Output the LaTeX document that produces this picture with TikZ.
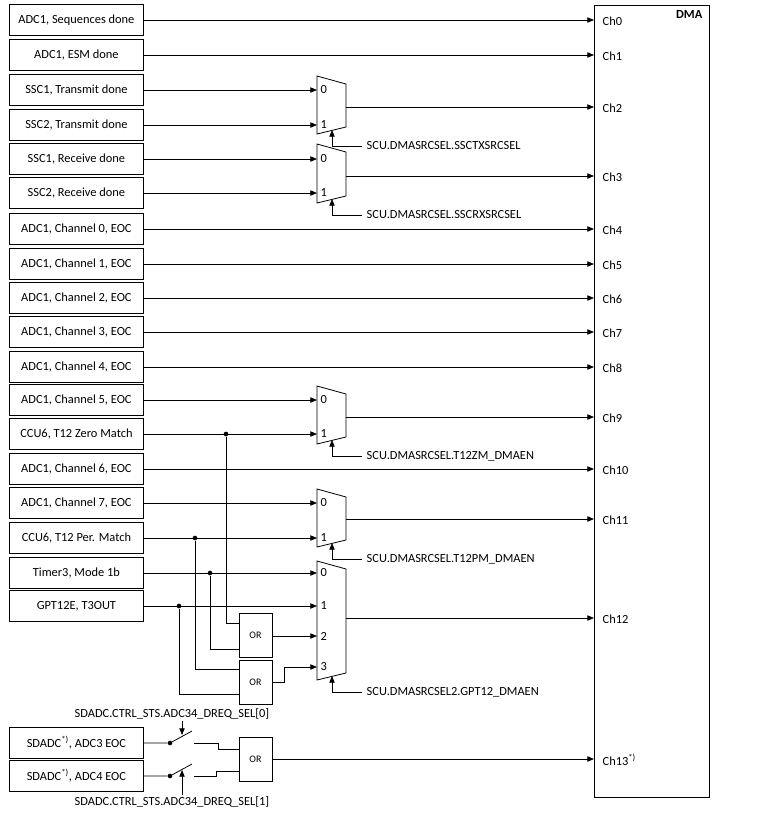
\documentclass[tikz,border=0pt]{standalone}
\usepackage{fontspec}
\setmainfont{Carlito}
\usetikzlibrary{arrows.meta,calc}
\begin{document}
\begin{tikzpicture}[x=0.75pt,y=-0.75pt,
  every node/.style={font=\fontsize{9.3}{11}\selectfont},
  src/.style={draw,line width=0.6pt,minimum width=100.5pt,minimum height=23.5pt,inner sep=0pt,anchor=west},
  orb/.style={draw,line width=0.6pt,minimum width=24.75pt,minimum height=33pt,inner sep=0pt,font=\fontsize{7.5}{8}\selectfont},
  w/.style={line width=0.6pt},
  a/.style={w,-{Triangle[length=5pt,width=4pt]}},
  dot/.style={circle,fill,inner sep=0pt,minimum size=3.5pt}]
\useasboundingbox (0,0) rectangle (758,819);
\node[draw,line width=0.6pt,minimum width=86.25pt,minimum height=594pt,anchor=north west,inner sep=0pt] (dma) at (594,5) {};
\node[font=\fontsize{9.3}{11}\selectfont\bfseries,anchor=north east] at (707,6) {DMA};
% sources
\foreach \n/\y/\t in {0/20/{ADC1, Sequences done},1/55/{ADC1, ESM done},2/90/{SSC1, Transmit done},3/125/{SSC2, Transmit done},4/159/{SSC1, Receive done},5/193/{SSC2, Receive done},6/229/{ADC1, Channel 0, EOC},7/264/{ADC1, Channel 1, EOC},8/298/{ADC1, Channel 2, EOC},9/332/{ADC1, Channel 3, EOC},10/367/{ADC1, Channel 4, EOC},11/400/{ADC1, Channel 5, EOC},12/434/{CCU6, T12 Zero Match},13/469/{ADC1, Channel 6, EOC},14/503/{ADC1, Channel 7, EOC},15/538/{CCU6, T12 Per. Match},16/573/{Timer3, Mode 1b},17/606/{GPT12E, T3OUT}}
  \node[src] (s\n) at (9,\y) {\t};
\node[src] (s18) at (9,743) {SDADC\textsuperscript{*)}, ADC3 EOC};
\node[src] (s19) at (9,776) {SDADC\textsuperscript{*)}, ADC4 EOC};
% channel labels
\foreach \n/\y in {0/20,1/55,2/107,3/176,4/229,5/264,6/298,7/332,8/367,9/417,10/469,11/519,12/618}
  \coordinate (c\n) at (594,\y);
\foreach \n in {0,...,12}
  \node[anchor=west] (l\n) at ($(c\n)+(4,1)$) {Ch\n};
\coordinate (c13) at (594,759);
\node[anchor=west] (l13) at (598,760) {Ch13\textsuperscript{*)}};
% direct
\foreach \s/\c in {0/0,1/1,6/4,7/5,8/6,9/7,10/8,13/10}
  \draw[a] (s\s.east) -- (c\c);
% muxes
\newcommand\mymux[5]{% name, x, ytop, ybot, label
  \draw[w] (#2,#3) -- (#2+29,#3+8) -- (#2+29,#4-7) -- (#2,#4) -- cycle;
  \coordinate (#1o) at (#2+29,{(#3+#4)/2});
  \coordinate (#1s) at (#2+15,#4-4);
  \node[anchor=west] (#1l) at (#2+45,#4+12) {#5};
  \draw[a] (#1l.west) -| (#1s);}
\mymux{m1}{317}{76}{134}{SCU.DMASRCSEL.SSCTXSRCSEL}
\mymux{m2}{317}{144}{203}{SCU.DMASRCSEL.SSCRXSRCSEL}
\mymux{m3}{317}{386}{444}{SCU.DMASRCSEL.T12ZM\_DMAEN}
\mymux{m4}{317}{489}{547}{SCU.DMASRCSEL.T12PM\_DMAEN}
\mymux{m5}{317}{561}{680}{SCU.DMASRCSEL2.GPT12\_DMAEN}
\draw[a] (m1o |- c2) -- (c2);
\draw[a] (m2o |- c3) -- (c3);
\draw[a] (m3o |- c9) -- (c9);
\draw[a] (m4o |- c11) -- (c11);
\draw[a] (m5o |- c12) -- (c12);
% mux inputs
\foreach \s/\y/\k in {2/90/0,3/125/1,4/159/0,5/193/1,11/400/0,12/434/1,14/503/0,15/538/1,16/573/0,17/606/1}{
  \draw[a] (s\s.east) -- (317,\y);
  \node[anchor=west,inner sep=1pt] at (319,\y) {\k};}
\node[anchor=west,inner sep=1pt] at (319,636) {2};
\node[anchor=west,inner sep=1pt] at (319,667) {3};
% OR gates
\node[orb] (or1) at (255.5,635.5) {OR};
\node[orb] (or2) at (255.5,682) {OR};
\node[dot] (d1) at (226,434) {};
\node[dot] (d2) at (210,573) {};
\node[dot] (d3) at (195,538) {};
\node[dot] (d4) at (179,606) {};
\draw[w] (d1) |- (or1.west |- 0,623);
\draw[w] (d2) |- (or1.west |- 0,649);
\draw[w] (d3) |- (or2.west |- 0,669);
\draw[w] (d4) |- (or2.west |- 0,694);
\draw[a] (or1.east |- 0,636) -- (317,636);
\draw[a] (or2.east) -- (284,682) |- (317,667);
% SDADC
\node[orb] (or3) at (255.5,759) {OR};
\node[dot] (k1) at (170,743) {};
\node[dot] (k2) at (170,776) {};
\draw[w] (s18.east) -- (k1) -- (192,731);
\draw[w] (s19.east) -- (k2) -- (192,764);
\draw[w] (194,743) -- (218,743) -- (218,749) -- (or3.west |- 0,749);
\draw[w] (194,776) -- (216,776) -- (216,771) -- (or3.west |- 0,771);
\draw[a] (or3.east) -- (c13);
\node (t1) at (172,714) {SDADC.CTRL\_STS.ADC34\_DREQ\_SEL[0]};
\node (t2) at (172,802) {SDADC.CTRL\_STS.ADC34\_DREQ\_SEL[1]};
\draw[a] (182,721) -- (182,735);
\draw[a] (182,795) -- (182,770);
\end{tikzpicture}
\end{document}
